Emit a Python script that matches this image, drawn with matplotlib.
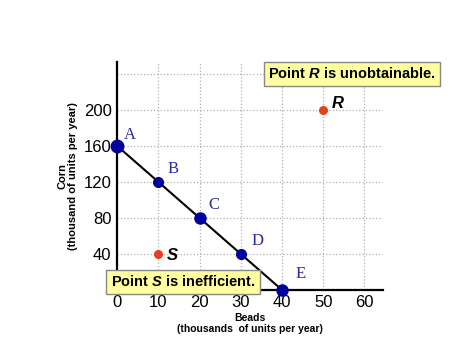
import matplotlib.pyplot as plt

plt.rcParams['font.family'] = ['Liberation Sans', 'DejaVu Sans']
plt.rcParams['mathtext.fontset'] = 'custom'
plt.rcParams['mathtext.bfit'] = 'Liberation Sans:italic:bold'

# production possibilities frontier
beads = [0, 10, 20, 30, 40]
corn = [160, 120, 80, 40, 0]
names = ['A', 'B', 'C', 'D', 'E']
# offsets of the letters (data units)
name_dx = [3, 3.5, 3.5, 4, 4.5]
name_dy = [12, 14, 14, 14, 18]

# other points
s_pt = (10, 40)
r_pt = (50, 200)

xticks = [0, 10, 20, 30, 40, 50, 60]
yticks = [40, 80, 120, 160, 200]
grid_y = [40, 80, 120, 160, 200, 240]

fig = plt.figure(figsize=(4.74, 3.51), dpi=100)
ax = fig.add_axes([0.247, 0.174, 0.561, 0.649])

for gx in xticks[1:]:
    ax.axvline(gx, color='#b0b0b0', lw=0.9, ls=':', zorder=0)
for gy in grid_y:
    ax.axhline(gy, color='#b0b0b0', lw=0.9, ls=':', zorder=0)

ax.plot(beads, corn, color='black', lw=1.5, zorder=2)
sizes = [9, 7, 8, 7, 8]
for x, y, n, dx, dy, ms in zip(beads, corn, names, name_dx, name_dy, sizes):
    ax.plot(x, y, 'o', color='#00009c', ms=ms, zorder=3, clip_on=False)
    ax.text(x + dx, y + dy, n, color='#2a2aa0', fontsize=12,
            family='Liberation Serif', ha='center', va='center')

ax.plot(*s_pt, 'o', color='#e8401c', ms=5.5, zorder=3)
ax.text(s_pt[0] + 3.5, s_pt[1] - 2, 'S', fontsize=12, fontweight='bold',
        style='italic', ha='center', va='center')
ax.plot(*r_pt, 'o', color='#e8401c', ms=5.5, zorder=3)
ax.text(r_pt[0] + 3.5, r_pt[1] + 7, 'R', fontsize=12, fontweight='bold',
        style='italic', ha='center', va='center')

box = dict(boxstyle='square,pad=0.3', fc='#ffffa0', ec='#888888', lw=1)
ax.text(57, 240, 'Point $\\bfit{R}$ is unobtainable.', fontsize=10.5,
        fontweight='bold', ha='center', va='center', bbox=box, zorder=5)
ax.text(16, 9, 'Point $\\bfit{S}$ is inefficient.', fontsize=10.5,
        fontweight='bold', ha='center', va='center', bbox=box, zorder=5,
        clip_on=False)

ax.set_xlim(0, 64.5)
ax.set_ylim(0, 253)
ax.set_xticks(xticks)
ax.set_yticks(yticks)
ax.tick_params(length=0, labelsize=12, pad=4)
for s in ['top', 'right']:
    ax.spines[s].set_visible(False)
ax.spines['left'].set_linewidth(1.6)
ax.spines['bottom'].set_linewidth(1.6)

ax.set_xlabel('Beads\n(thousands  of units per year)', fontsize=7.5,
              fontweight='bold', labelpad=2, linespacing=1.1)
ax.set_ylabel('Corn\n(thousand of units per year)', fontsize=8,
              fontweight='bold', labelpad=4, linespacing=1.1)

fig.savefig('out.png', dpi=100)
